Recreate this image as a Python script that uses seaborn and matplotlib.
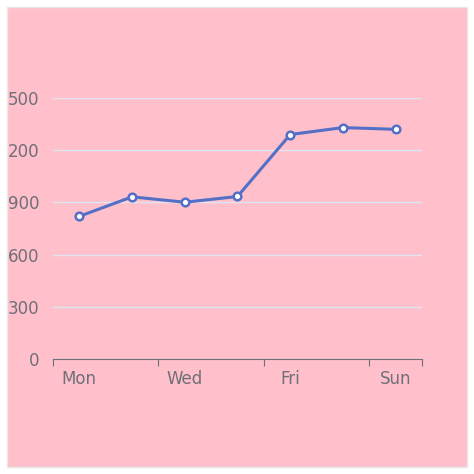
import matplotlib
matplotlib.use("Agg")
import matplotlib.pyplot as plt
import seaborn as sns
import pandas as pd

days = ["Mon", "Tue", "Wed", "Thu", "Fri", "Sat", "Sun"]
values = [820, 932, 901, 934, 1290, 1330, 1320]
ytick_vals = [0, 300, 600, 900, 1200, 1500]
ytick_labels = ["0", "300", "600", "900", "200", "500"]

df = pd.DataFrame({"day": range(len(days)), "v": values})

fig = plt.figure(figsize=(4.74, 4.74), dpi=100)
fig.patch.set_facecolor("white")
fig.add_artist(plt.Rectangle((7/474, 7/474), 460/474, 460/474, transform=fig.transFigure,
                             facecolor="#ffc0cb", edgecolor="#e8e8e8", lw=1, zorder=-10))
ax = fig.add_axes([53/474, 1 - 359/474, (422-53)/474, (359-98)/474])
ax.set_facecolor("none")
sns.lineplot(data=df, x="day", y="v", ax=ax, color="#5470c6", linewidth=2.2,
             marker="o", markersize=5.5, markerfacecolor="white",
             markeredgecolor="#5470c6", markeredgewidth=1.8)
ax.set_xlim(-0.5, 6.5)
ax.set_ylim(0, 1500)
ax.set_yticks(ytick_vals)
ax.set_yticklabels(ytick_labels)
for y in ytick_vals[1:]:
    ax.axhline(y, color="#e0e6f1", lw=1, zorder=0)
ax.set_xticks([-0.5, 1.5, 3.5, 5.5, 6.5])
ax.set_xticklabels([])
ax.set_xticks([0, 2, 4, 6], minor=True)
ax.set_xticklabels(["Mon", "Wed", "Fri", "Sun"], minor=True)
ax.tick_params(axis="x", which="major", length=5, color="#6e7079")
ax.tick_params(axis="x", which="minor", length=0, labelsize=12, labelcolor="#6e7079", pad=8)
ax.tick_params(axis="y", length=0, labelsize=12, labelcolor="#6e7079", pad=10)
for s in ["top", "right", "left"]:
    ax.spines[s].set_visible(False)
ax.spines["bottom"].set_color("#6e7079")
ax.set_xlabel("")
ax.set_ylabel("")
fig.savefig("out.png", dpi=100, facecolor=fig.get_facecolor())
